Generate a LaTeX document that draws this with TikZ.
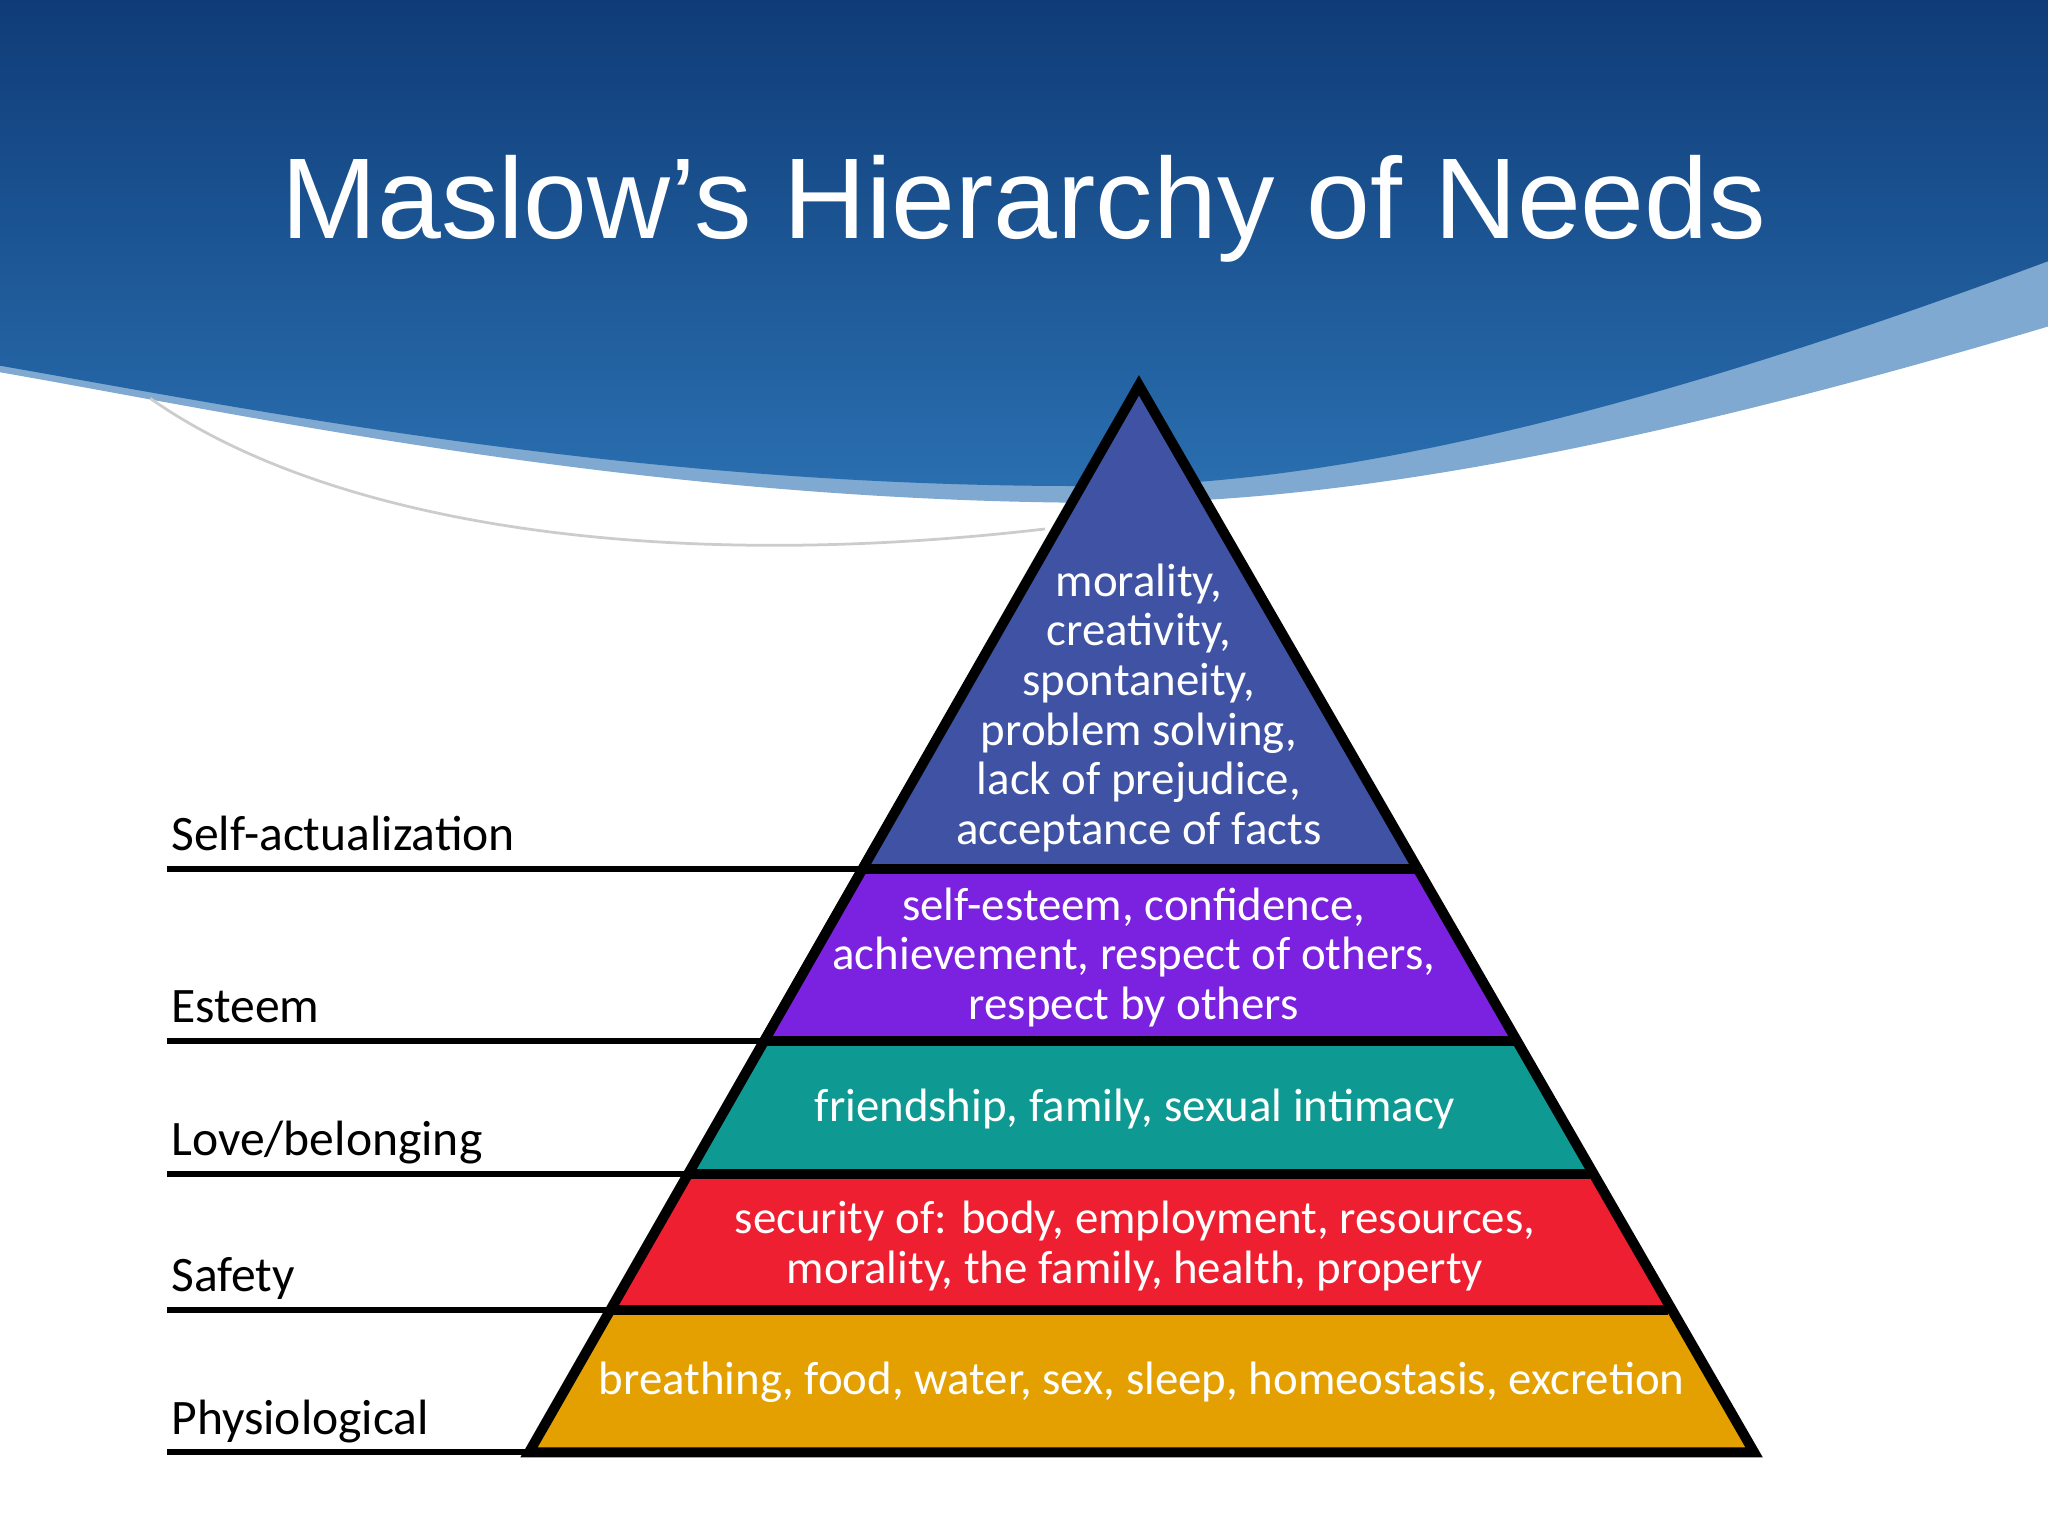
\documentclass[tikz,border=0pt]{standalone}
\usepackage{fontspec}
\setmainfont{Liberation Sans}
\newfontfamily\pyr{Carlito}
\begin{document}
\begin{tikzpicture}[x=0.01cm,y=-0.01cm,
  txt/.style={text=white,font=\pyr\fontsize{10.2}{10.8}\selectfont,align=center},
  lab/.style={font=\pyr\fontsize{10.8}{12}\selectfont,anchor=base west,inner sep=1pt},
  rule/.style={line width=1.3pt}]
\definecolor{hdA}{HTML}{0F3C78}\definecolor{hdB}{HTML}{2A6FB0}
\definecolor{cSA}{HTML}{3F52A3}\definecolor{cE}{HTML}{7B22E0}
\definecolor{cL}{HTML}{0E9A92}\definecolor{cS}{HTML}{EE1F30}\definecolor{cP}{HTML}{E3A000}
\useasboundingbox (0,0) rectangle (1568,1176);
\fill[white] (0,0) rectangle (1568,1176);
% header
\fill[hdB!60] (0,0) -- (1568,0) -- (1568,250) .. controls (1300,330) and (1050,385) .. (850,385) .. controls (500,385) and (200,320) .. (0,285) -- cycle;
\shade[top color=hdA,bottom color=hdB] (0,0) -- (1568,0) -- (1568,200) .. controls (1300,300) and (1050,370) .. (850,372) .. controls (500,375) and (200,315) .. (0,280) -- cycle;
\draw[gray!40,line width=0.6pt] (115,305) .. controls (250,400) and (500,440) .. (800,405);
\node[text=white,font=\fontsize{25}{30}\selectfont] (title) at (784,160) {Maslow’s Hierarchy of Needs};
% pyramid
\coordinate (A) at (872,295); \coordinate (BL) at (405,1112); \coordinate (BR) at (1343,1112);
\fill[cSA] (A) -- (660.5,665) -- (1083.5,665) -- cycle;
\fill[cE] (660.5,665) -- (585,797) -- (1159,797) -- (1083.5,665) -- cycle;
\fill[cL] (585,797) -- (527,899) -- (1217,899) -- (1159,797) -- cycle;
\fill[cS] (527,899) -- (467,1003) -- (1277,1003) -- (1217,899) -- cycle;
\fill[cP] (467,1003) -- (BL) -- (BR) -- (1277,1003) -- cycle;
\draw[line width=2.2pt,line join=miter] (A) -- (BL) -- (BR) -- cycle;
\foreach \y/\xl/\xr in {665/660.5/1083.5,797/585/1159,899/527/1217,1003/467/1277}
  \draw[line width=2.2pt] (\xl,\y) -- (\xr,\y);
% level lines and labels
\foreach \y/\xr/\t in {665/660.5/{Self-actualization},797/585/{Esteem},899/527/{Love/belonging},1003/467/{Safety},1112/405/{Physiological}}
  {\draw[rule] (128,\y) -- (\xr,\y); \node[lab] at (127,\y-14) {\t};}
% texts
\node[txt] (t1) at (872,542) {morality,\\creativity,\\spontaneity,\\problem solving,\\lack of prejudice,\\acceptance of facts};
\node[txt] (t2) at (868,733) {self-esteem, confidence,\\achievement, respect of others,\\respect by others};
\node[txt] (t3) at (869,849) {friendship, family, sexual intimacy};
\node[txt] (t4) at (869,954) {security of: body, employment, resources,\\morality, the family, health, property};
\node[txt] (t5) at (874,1058) {breathing, food, water, sex, sleep, homeostasis, excretion};
\end{tikzpicture}
\end{document}
